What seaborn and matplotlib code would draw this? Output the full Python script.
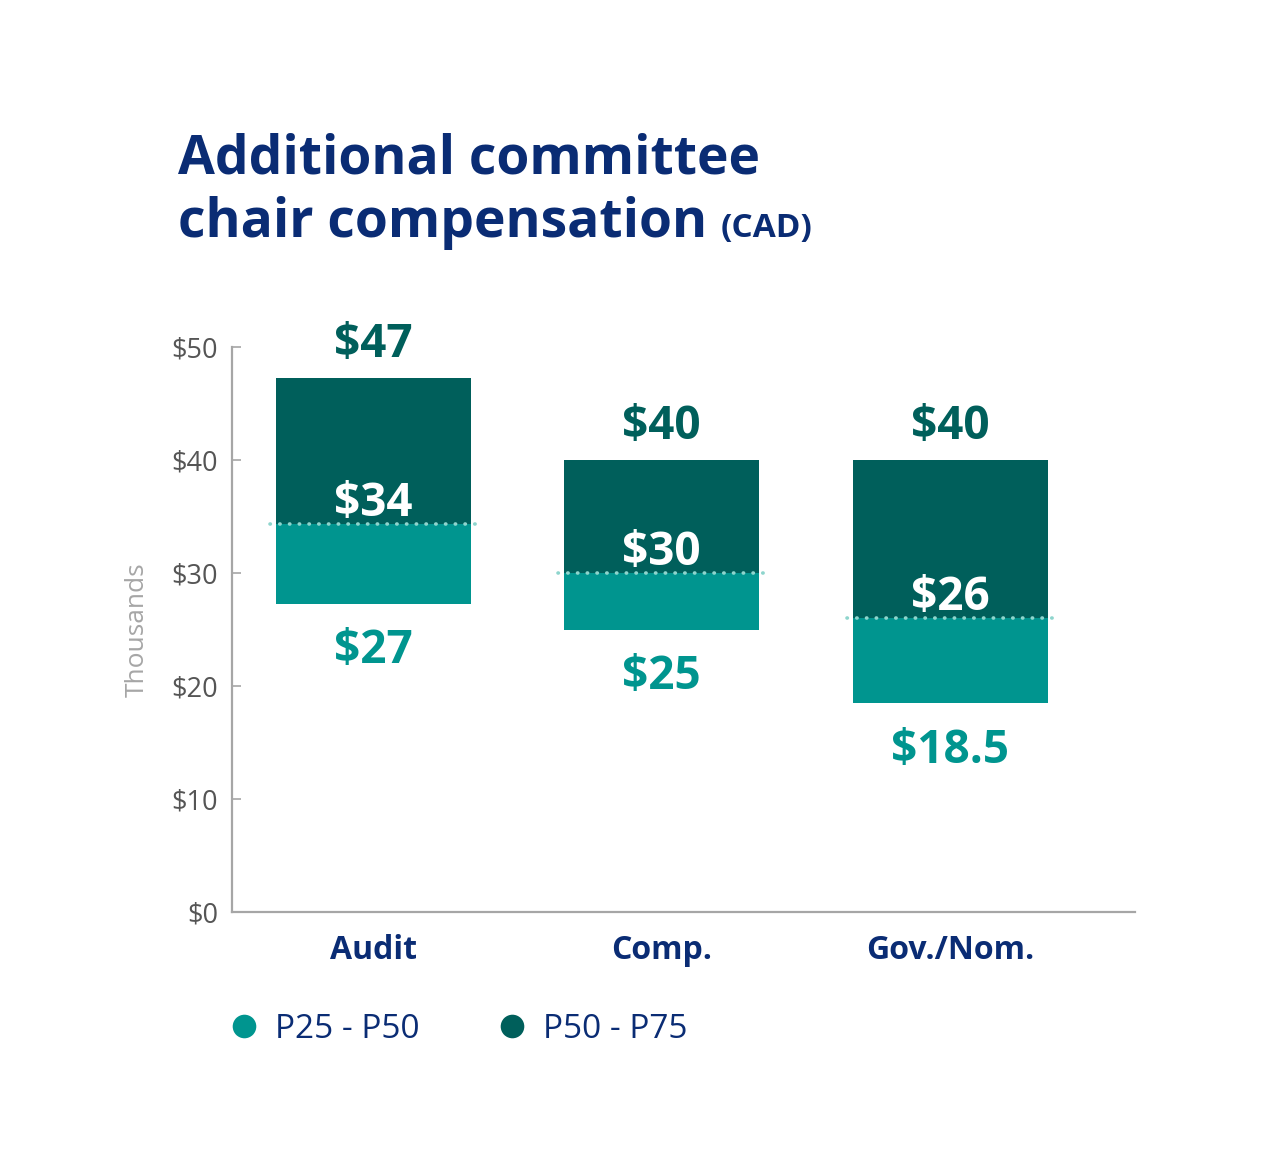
import numpy as np
import pandas as pd
import matplotlib.pyplot as plt
from matplotlib.lines import Line2D
import seaborn as sns

# Datos (miles de CAD)
comites = ["Audit", "Comp.", "Gov./Nom."]
p25 = np.array([27.3, 25.0, 18.5])
p50 = np.array([34.3, 30.0, 26.0])
p75 = np.array([47.3, 40.0, 40.0])
etiq_p25 = ["$27", "$25", "$18.5"]
etiq_p50 = ["$34", "$30", "$26"]
etiq_p75 = ["$47", "$40", "$40"]
yticks = [0, 10, 20, 30, 40, 50]

navy = "#0A2C74"
verde_claro = "#00958F"
verde_osc = "#005F5B"
punteado = "#8ED5CD"
gris = "#A6A6A6"

sns.set_theme(style="white")
plt.rcParams["font.family"] = ["Open Sans", "DejaVu Sans"]

df = pd.DataFrame({"comite": comites, "p25": p25, "p50": p50, "p75": p75})

fig = plt.figure(figsize=(12.8, 11.75), dpi=100)
ax = fig.add_axes([232 / 1280, 263 / 1175, 903 / 1280, 565 / 1175])

ancho = 0.676
sns.barplot(data=df, x="comite", y=df["p50"] - df["p25"], bottom=df["p25"],
            order=comites, color=verde_claro, width=ancho, errorbar=None,
            linewidth=0, saturation=1, ax=ax)
sns.barplot(data=df, x="comite", y=df["p75"] - df["p50"], bottom=df["p50"],
            order=comites, color=verde_osc, width=ancho, errorbar=None,
            linewidth=0, saturation=1, ax=ax)

# linea punteada en la mediana + etiquetas
for i in range(len(comites)):
    ax.plot([i - 0.359, i + 0.359], [p50[i], p50[i]], color=punteado,
            linestyle=(0, (0.1, 2.6)), linewidth=2.6, dash_capstyle="round",
            zorder=3)
    ax.annotate(etiq_p75[i], (i, p75[i]), xytext=(0, 15), textcoords="offset points",
                ha="center", va="baseline", fontsize=33, fontweight="bold",
                color=verde_osc)
    ax.annotate(etiq_p50[i], (i, p50[i]), xytext=(0, 6), textcoords="offset points",
                ha="center", va="baseline", fontsize=33, fontweight="bold",
                color="white", zorder=4)
    ax.annotate(etiq_p25[i], (i, p25[i]), xytext=(0, -43), textcoords="offset points",
                ha="center", va="baseline", fontsize=33, fontweight="bold",
                color=verde_claro)

ax.set_xlim(-0.489, 2.641)
ax.set_ylim(0, 50)
ax.set_yticks(yticks)
ax.set_yticklabels([f"${v}" for v in yticks], fontsize=19.5, color="#555555")
ax.tick_params(axis="y", direction="in", length=6.5, width=1.2, color=gris,
               pad=10, left=True)
ax.tick_params(axis="x", length=0, pad=16)
for lab in ax.get_xticklabels():
    lab.set_fontsize(23)
    lab.set_fontweight("bold")
    lab.set_color(navy)
ax.set_xlabel("")
ax.set_ylabel("Thousands", fontsize=19, color=gris)
ax.yaxis.set_label_coords(-0.091, 0.5)

sns.despine(ax=ax)
for s in ["left", "bottom"]:
    ax.spines[s].set_color(gris)
    ax.spines[s].set_linewidth(1.6)

# Titulo
fig.text(178 / 1280, 1 - 173 / 1175, "Additional committee", fontsize=38.5,
         fontweight="bold", color=navy, va="baseline")
t2 = fig.text(178 / 1280, 1 - 237 / 1175, "chair compensation", fontsize=38.5,
              fontweight="bold", color=navy, va="baseline")
fig.canvas.draw()
bb = t2.get_window_extent(renderer=fig.canvas.get_renderer())
fig.text((bb.x1 + 13) / 1280, 1 - 237 / 1175, "(CAD)", fontsize=24,
         fontweight="bold", color=navy, va="baseline")

# Leyenda
handles = [Line2D([], [], marker="o", linestyle="", markersize=17,
                  markerfacecolor=verde_claro, markeredgewidth=0),
           Line2D([], [], marker="o", linestyle="", markersize=17,
                  markerfacecolor=verde_osc, markeredgewidth=0)]
leg = fig.legend(handles, ["P25 - P50", "P50 - P75"], loc="center left",
                 bbox_to_anchor=(231 / 1280, 1 - 1029 / 1175), ncol=2,
                 frameon=False, fontsize=24, handlelength=0.8,
                 handletextpad=0.52, columnspacing=2.38, borderpad=0,
                 borderaxespad=0)
for t in leg.get_texts():
    t.set_color(navy)

fig.savefig("out.png", dpi=100, facecolor="white")
